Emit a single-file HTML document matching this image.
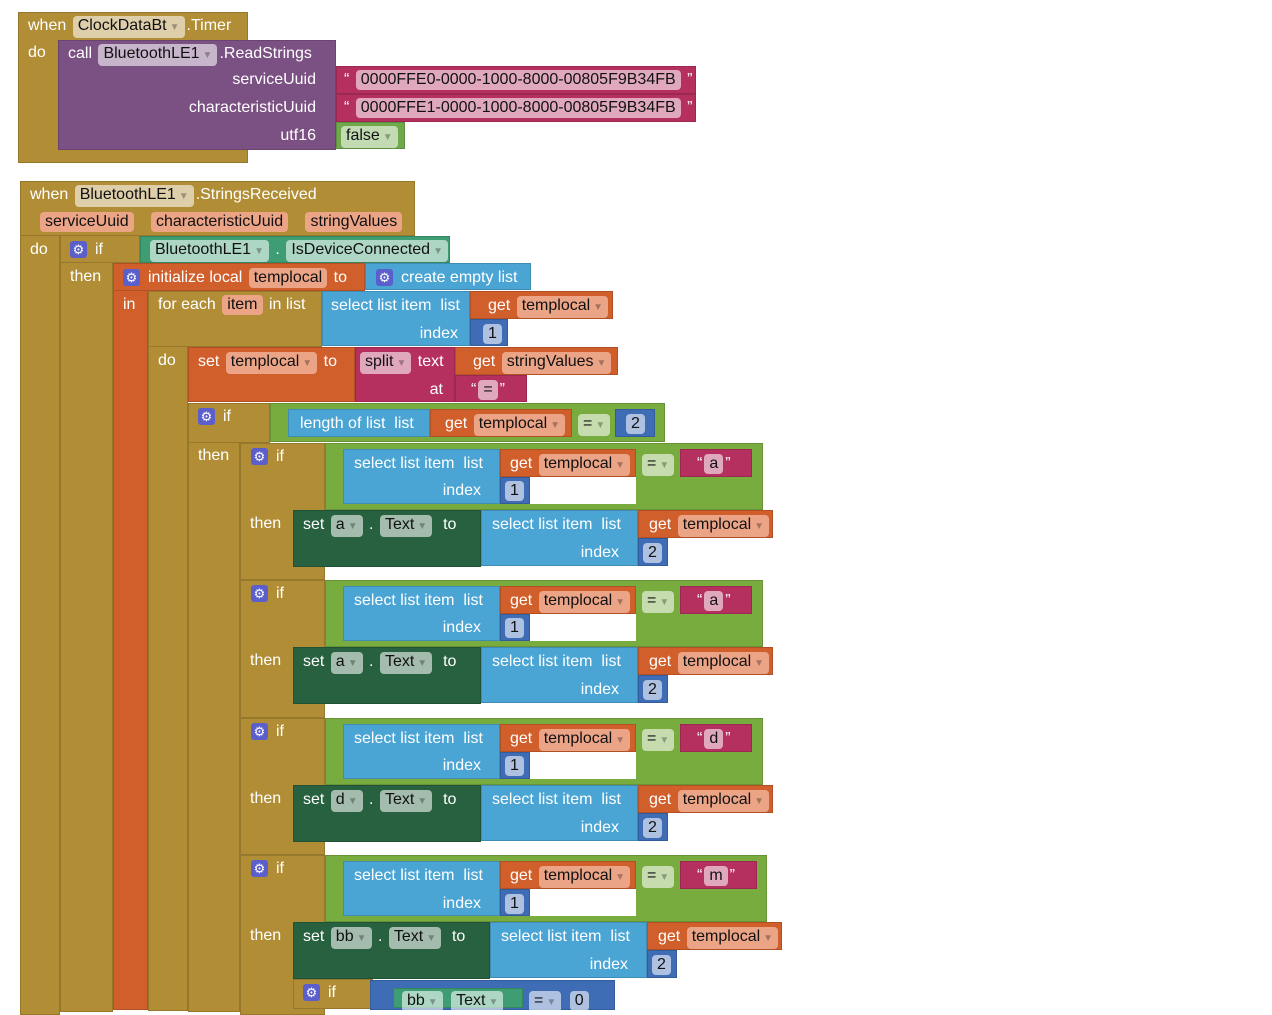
<!DOCTYPE html>
<html><head><meta charset="utf-8"><style>
body{margin:0;width:1272px;height:1000px;background:#fff;position:relative;overflow:hidden;font-family:"Liberation Sans",sans-serif}
.b{position:absolute;box-sizing:border-box;border:1px solid rgba(0,0,0,.15)}
.g{background:#b18e35}.p{background:#7b5083}.m{background:#b5305f}.lg{background:#6fa94a}
.gr{background:#79ac3f}.te{background:#3f9d73}.o{background:#d15f2c}.bl{background:#4aa5d4}
.db{background:#3f6db5}.dg{background:#27613f}.w{background:#fff;border:none}
.t{position:absolute;color:#fff;font:16px/20px "Liberation Sans",sans-serif;white-space:nowrap;transform:translateY(-9px)}
.r{text-align:right}
.f{display:inline-block;background:rgba(255,255,255,.58);color:#111;border-radius:4px;padding:0 5px;line-height:20px;margin:0 2px}
.s{background:#eca487}
.a{font-size:10px;color:rgba(0,0,0,.3);font-weight:normal;margin-left:3px}
.gear{display:inline-block;width:17px;height:17px;background:#5b5fcb;border-radius:3px;color:#fff;font-size:13px;line-height:17px;text-align:center;vertical-align:middle;margin-right:8px}
</style></head><body>

<!-- Block 1 -->
<div class="b g" style="left:18px;top:12px;width:230px;height:151px"></div>
<div class="b p" style="left:58px;top:40px;width:278px;height:110px"></div>
<div class="b m" style="left:336px;top:66px;width:360px;height:28px"></div>
<div class="b m" style="left:336px;top:94px;width:360px;height:28px"></div>
<div class="b lg" style="left:336px;top:122px;width:69px;height:27px"></div>
<span class="t" style="left:28px;top:25px">when <span class="f">ClockDataBt<b class="a">▼</b></span>.Timer</span>
<span class="t" style="left:28px;top:52px">do</span>
<span class="t" style="left:68px;top:53px">call <span class="f">BluetoothLE1<b class="a">▼</b></span>.ReadStrings</span>
<span class="t r" style="right:956px;top:79px">serviceUuid</span>
<span class="t r" style="right:956px;top:107px">characteristicUuid</span>
<span class="t r" style="right:956px;top:135px">utf16</span>
<span class="t" style="left:344px;top:79px">“ <span class="f">0000FFE0-0000-1000-8000-00805F9B34FB</span> ”</span>
<span class="t" style="left:344px;top:107px">“ <span class="f">0000FFE1-0000-1000-8000-00805F9B34FB</span> ”</span>
<span class="t" style="left:339px;top:135px"><span class="f">false<b class="a">▼</b></span></span>

<!-- Block 2 -->
<div class="b g" style="left:20px;top:181px;width:395px;height:55px"></div>
<div class="b g" style="left:20px;top:235px;width:40px;height:780px"></div>
<div class="b g" style="left:60px;top:235px;width:80px;height:28px"></div>
<div class="b g" style="left:60px;top:262px;width:53px;height:750px"></div>
<div class="b te" style="left:140px;top:236px;width:310px;height:27px"></div>
<div class="b o" style="left:113px;top:263px;width:252px;height:28px"></div>
<div class="b o" style="left:113px;top:290px;width:35px;height:720px"></div>
<div class="b bl" style="left:365px;top:263px;width:166px;height:27px"></div>
<div class="b g" style="left:148px;top:291px;width:174px;height:56px"></div>
<div class="b g" style="left:148px;top:346px;width:40px;height:665px"></div>
<div class="b bl" style="left:322px;top:291px;width:148px;height:55px"></div>
<div class="b o" style="left:470px;top:291px;width:143px;height:28px"></div>
<div class="b db" style="left:470px;top:319px;width:38px;height:27px"></div>
<div class="b o" style="left:188px;top:347px;width:167px;height:55px"></div>
<div class="b m" style="left:355px;top:347px;width:100px;height:55px"></div>
<div class="b o" style="left:455px;top:347px;width:163px;height:28px"></div>
<div class="b m" style="left:455px;top:375px;width:72px;height:27px"></div>
<div class="b g" style="left:188px;top:403px;width:82px;height:40px"></div>
<div class="b g" style="left:188px;top:442px;width:52px;height:570px"></div>
<div class="b gr" style="left:270px;top:403px;width:395px;height:39px"></div>
<div class="b bl" style="left:288px;top:409px;width:142px;height:28px"></div>
<div class="b o" style="left:430px;top:409px;width:142px;height:28px"></div>
<div class="b db" style="left:615px;top:409px;width:40px;height:28px"></div>

<span class="t" style="left:30px;top:194px">when <span class="f">BluetoothLE1<b class="a">▼</b></span>.StringsReceived</span>
<span class="t" style="left:38px;top:221px"><span class="f s">serviceUuid</span> &nbsp; <span class="f s">characteristicUuid</span> &nbsp; <span class="f s">stringValues</span></span>
<span class="t" style="left:30px;top:249px">do</span>
<span class="t" style="left:70px;top:249px"><span class="gear">⚙</span>if</span>
<span class="t" style="left:70px;top:276px">then</span>
<span class="t" style="left:148px;top:249px"><span class="f">BluetoothLE1<b class="a">▼</b></span> . <span class="f">IsDeviceConnected<b class="a">▼</b></span></span>
<span class="t" style="left:123px;top:277px"><span class="gear">⚙</span>initialize local <span class="f s">templocal</span> to</span>
<span class="t" style="left:123px;top:304px">in</span>
<span class="t" style="left:376px;top:277px"><span class="gear">⚙</span>create empty list</span>
<span class="t" style="left:158px;top:304px">for each <span class="f s">item</span> in list</span>
<span class="t" style="left:158px;top:360px">do</span>
<span class="t" style="left:331px;top:305px">select list item &nbsp;list</span>
<span class="t r" style="right:814px;top:333px">index</span>
<span class="t" style="left:488px;top:305px">get <span class="f s">templocal<b class="a">▼</b></span></span>
<span class="t" style="left:481px;top:333px"><span class="f">1</span></span>
<span class="t" style="left:198px;top:361px">set <span class="f s">templocal<b class="a">▼</b></span> to</span>
<span class="t" style="left:358px;top:361px"><span class="f">split<b class="a">▼</b></span> text</span>
<span class="t r" style="right:829px;top:389px">at</span>
<span class="t" style="left:473px;top:361px">get <span class="f s">stringValues<b class="a">▼</b></span></span>
<span class="t" style="left:471px;top:389px">“<span class="f">=</span>”</span>
<span class="t" style="left:198px;top:416px"><span class="gear">⚙</span>if</span>
<span class="t" style="left:198px;top:455px">then</span>
<span class="t" style="left:300px;top:423px">length of list &nbsp;list</span>
<span class="t" style="left:445px;top:423px">get <span class="f s">templocal<b class="a">▼</b></span></span>
<span class="t" style="left:576px;top:423px"><span class="f">=<b class="a">▼</b></span></span>
<span class="t" style="left:624px;top:423px"><span class="f">2</span></span>

<!-- Inner if #1 y=443 -->
<div class="b g" style="left:240px;top:443px;width:85px;height:137px"></div>
<div class="b gr" style="left:325px;top:443px;width:438px;height:67px"></div>
<div class="b bl" style="left:343px;top:449px;width:157px;height:55px"></div>
<div class="b w" style="left:500px;top:477px;width:136px;height:27px"></div>
<div class="b o" style="left:500px;top:449px;width:136px;height:28px"></div>
<div class="b db" style="left:500px;top:477px;width:30px;height:27px"></div>
<div class="b m" style="left:680px;top:449px;width:72px;height:28px"></div>
<div class="b dg" style="left:293px;top:510px;width:188px;height:57px"></div>
<div class="b bl" style="left:481px;top:510px;width:157px;height:56px"></div>
<div class="b o" style="left:638px;top:510px;width:135px;height:28px"></div>
<div class="b db" style="left:638px;top:538px;width:30px;height:28px"></div>
<span class="t" style="left:251px;top:456px"><span class="gear">⚙</span>if</span>
<span class="t" style="left:250px;top:523px">then</span>
<span class="t" style="left:354px;top:463px">select list item &nbsp;list</span>
<span class="t r" style="right:791px;top:490px">index</span>
<span class="t" style="left:510px;top:463px">get <span class="f s">templocal<b class="a">▼</b></span></span>
<span class="t" style="left:503px;top:490px"><span class="f">1</span></span>
<span class="t" style="left:640px;top:463px"><span class="f">=<b class="a">▼</b></span></span>
<span class="t" style="left:697px;top:463px">“<span class="f">a</span>”</span>
<span class="t" style="left:303px;top:524px">set <span class="f">a<b class="a">▼</b></span> . <span class="f">Text<b class="a">▼</b></span> &nbsp;to</span>
<span class="t" style="left:492px;top:524px">select list item &nbsp;list</span>
<span class="t r" style="right:653px;top:552px">index</span>
<span class="t" style="left:649px;top:524px">get <span class="f s">templocal<b class="a">▼</b></span></span>
<span class="t" style="left:641px;top:552px"><span class="f">2</span></span>

<!-- Inner if #2 y=580 -->
<div class="b g" style="left:240px;top:580px;width:85px;height:138px"></div>
<div class="b gr" style="left:325px;top:580px;width:438px;height:67px"></div>
<div class="b bl" style="left:343px;top:586px;width:157px;height:55px"></div>
<div class="b w" style="left:500px;top:614px;width:136px;height:27px"></div>
<div class="b o" style="left:500px;top:586px;width:136px;height:28px"></div>
<div class="b db" style="left:500px;top:614px;width:30px;height:27px"></div>
<div class="b m" style="left:680px;top:586px;width:72px;height:28px"></div>
<div class="b dg" style="left:293px;top:647px;width:188px;height:57px"></div>
<div class="b bl" style="left:481px;top:647px;width:157px;height:56px"></div>
<div class="b o" style="left:638px;top:647px;width:135px;height:28px"></div>
<div class="b db" style="left:638px;top:675px;width:30px;height:28px"></div>
<span class="t" style="left:251px;top:593px"><span class="gear">⚙</span>if</span>
<span class="t" style="left:250px;top:660px">then</span>
<span class="t" style="left:354px;top:600px">select list item &nbsp;list</span>
<span class="t r" style="right:791px;top:627px">index</span>
<span class="t" style="left:510px;top:600px">get <span class="f s">templocal<b class="a">▼</b></span></span>
<span class="t" style="left:503px;top:627px"><span class="f">1</span></span>
<span class="t" style="left:640px;top:600px"><span class="f">=<b class="a">▼</b></span></span>
<span class="t" style="left:697px;top:600px">“<span class="f">a</span>”</span>
<span class="t" style="left:303px;top:661px">set <span class="f">a<b class="a">▼</b></span> . <span class="f">Text<b class="a">▼</b></span> &nbsp;to</span>
<span class="t" style="left:492px;top:661px">select list item &nbsp;list</span>
<span class="t r" style="right:653px;top:689px">index</span>
<span class="t" style="left:649px;top:661px">get <span class="f s">templocal<b class="a">▼</b></span></span>
<span class="t" style="left:641px;top:689px"><span class="f">2</span></span>

<!-- Inner if #3 y=718 -->
<div class="b g" style="left:240px;top:718px;width:85px;height:137px"></div>
<div class="b gr" style="left:325px;top:718px;width:438px;height:67px"></div>
<div class="b bl" style="left:343px;top:724px;width:157px;height:55px"></div>
<div class="b w" style="left:500px;top:752px;width:136px;height:27px"></div>
<div class="b o" style="left:500px;top:724px;width:136px;height:28px"></div>
<div class="b db" style="left:500px;top:752px;width:30px;height:27px"></div>
<div class="b m" style="left:680px;top:724px;width:72px;height:28px"></div>
<div class="b dg" style="left:293px;top:785px;width:188px;height:57px"></div>
<div class="b bl" style="left:481px;top:785px;width:157px;height:56px"></div>
<div class="b o" style="left:638px;top:785px;width:135px;height:28px"></div>
<div class="b db" style="left:638px;top:813px;width:30px;height:28px"></div>
<span class="t" style="left:251px;top:731px"><span class="gear">⚙</span>if</span>
<span class="t" style="left:250px;top:798px">then</span>
<span class="t" style="left:354px;top:738px">select list item &nbsp;list</span>
<span class="t r" style="right:791px;top:765px">index</span>
<span class="t" style="left:510px;top:738px">get <span class="f s">templocal<b class="a">▼</b></span></span>
<span class="t" style="left:503px;top:765px"><span class="f">1</span></span>
<span class="t" style="left:640px;top:738px"><span class="f">=<b class="a">▼</b></span></span>
<span class="t" style="left:697px;top:738px">“<span class="f">d</span>”</span>
<span class="t" style="left:303px;top:799px">set <span class="f">d<b class="a">▼</b></span> . <span class="f">Text<b class="a">▼</b></span> &nbsp;to</span>
<span class="t" style="left:492px;top:799px">select list item &nbsp;list</span>
<span class="t r" style="right:653px;top:827px">index</span>
<span class="t" style="left:649px;top:799px">get <span class="f s">templocal<b class="a">▼</b></span></span>
<span class="t" style="left:641px;top:827px"><span class="f">2</span></span>

<!-- Inner if #4 y=855 -->
<div class="b g" style="left:240px;top:855px;width:85px;height:160px"></div>
<div class="b gr" style="left:325px;top:855px;width:442px;height:67px"></div>
<div class="b bl" style="left:343px;top:861px;width:157px;height:55px"></div>
<div class="b w" style="left:500px;top:889px;width:136px;height:27px"></div>
<div class="b o" style="left:500px;top:861px;width:136px;height:28px"></div>
<div class="b db" style="left:500px;top:889px;width:30px;height:27px"></div>
<div class="b m" style="left:680px;top:861px;width:77px;height:28px"></div>
<div class="b dg" style="left:293px;top:922px;width:197px;height:57px"></div>
<div class="b bl" style="left:490px;top:922px;width:157px;height:56px"></div>
<div class="b o" style="left:647px;top:922px;width:135px;height:28px"></div>
<div class="b db" style="left:647px;top:950px;width:30px;height:28px"></div>
<span class="t" style="left:251px;top:868px"><span class="gear">⚙</span>if</span>
<span class="t" style="left:250px;top:935px">then</span>
<span class="t" style="left:354px;top:875px">select list item &nbsp;list</span>
<span class="t r" style="right:791px;top:903px">index</span>
<span class="t" style="left:510px;top:875px">get <span class="f s">templocal<b class="a">▼</b></span></span>
<span class="t" style="left:503px;top:903px"><span class="f">1</span></span>
<span class="t" style="left:640px;top:875px"><span class="f">=<b class="a">▼</b></span></span>
<span class="t" style="left:697px;top:875px">“<span class="f">m</span>”</span>
<span class="t" style="left:303px;top:936px">set <span class="f">bb<b class="a">▼</b></span> . <span class="f">Text<b class="a">▼</b></span> &nbsp;to</span>
<span class="t" style="left:501px;top:936px">select list item &nbsp;list</span>
<span class="t r" style="right:644px;top:964px">index</span>
<span class="t" style="left:658px;top:936px">get <span class="f s">templocal<b class="a">▼</b></span></span>
<span class="t" style="left:650px;top:964px"><span class="f">2</span></span>

<!-- bottom partial -->
<div class="b g" style="left:293px;top:979px;width:80px;height:30px"></div>
<div class="b db" style="left:370px;top:980px;width:245px;height:30px"></div>
<div class="b te" style="left:393px;top:988px;width:130px;height:20px"></div>
<span class="t" style="left:303px;top:992px"><span class="gear">⚙</span>if</span>
<span class="t" style="left:400px;top:1000px"><span class="f">bb<b class="a">▼</b></span> <span class="f">Text<b class="a">▼</b></span></span>
<span class="t" style="left:527px;top:1000px"><span class="f">=<b class="a">▼</b></span> <span class="f">0</span></span>
</body></html>
